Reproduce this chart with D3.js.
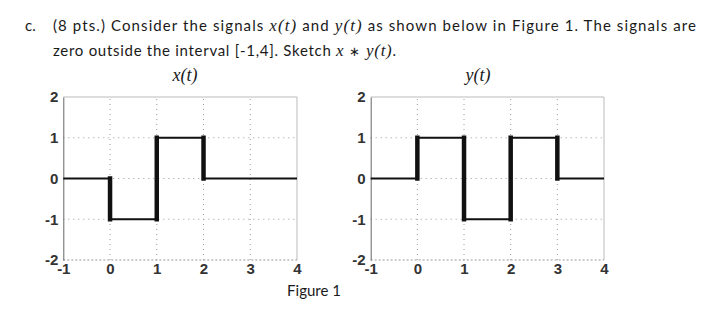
<!DOCTYPE html>
<html>
<head>
<meta charset="utf-8">
<script src="https://cdn.jsdelivr.net/npm/d3@7"></script>
<style>
  body { margin: 0; background: #fff; }
  .body-text { font-family: Lato, 'Open Sans', sans-serif; font-size: 15px; fill: #1a1a1a; }
  .math { font-family: 'Liberation Serif', serif; font-style: italic; font-size: 17px; }
  .tick text { font-family: 'Liberation Sans', Arial, sans-serif; font-size: 15px; font-weight: bold; fill: #333; }
</style>
</head>
<body>
<div class="chart"></div>
<script>
// signal breakpoints and piecewise-constant values
const tEdges = [-1, 0, 1, 2, 3, 4]
const xValues = [0, -1, 1, 0, 0]
const yValues = [0, 1, -1, 1, 0]
const tTicks = [-1, 0, 1, 2, 3, 4]
const vTicks = [-2, -1, 0, 1, 2]
const plotTitles = ['x(t)', 'y(t)']

const width = 716, height = 324

const svg = d3.select('.chart')
    .append('svg')
    .attr('width', width)
    .attr('height', height)

// heading text
function mathText(sel, parts) {
    parts.forEach(p => {
        let t = sel.append('tspan')
            .attr('class', p.m ? 'math' : null)
            .text(p.s)
        if (p.size) t.style('font-size', p.size).style('font-style', 'normal')
    })
}

svg.append('text').attr('class', 'body-text').attr('x', 25).attr('y', 31).text('c.')

let line1 = svg.append('text').attr('class', 'body-text')
    .attr('x', 53).attr('y', 31)
    .attr('textLength', 643).attr('lengthAdjust', 'spacing')
mathText(line1, [
    { s: '(8 pts.) Consider the signals ' },
    { s: 'x(t)', m: true },
    { s: ' and ' },
    { s: 'y(t)', m: true },
    { s: ' as shown below in Figure 1. The signals are' }
])

let line2 = svg.append('text').attr('class', 'body-text')
    .attr('x', 53).attr('y', 56)
    .attr('textLength', 343).attr('lengthAdjust', 'spacing')
mathText(line2, [
    { s: 'zero outside the interval [-1,4]. Sketch ' },
    { s: 'x ', m: true },
    { s: '\u2217', m: true, size: '13px' },
    { s: ' y(t)', m: true },
    { s: '.' }
])

svg.append('text').attr('class', 'body-text')
    .attr('x', 314).attr('y', 296)
    .attr('text-anchor', 'middle')
    .text('Figure 1')

const panels = [
    { values: xValues, x0: 63.3, x1: 297, titleX: 185, title: plotTitles[0] },
    { values: yValues, x0: 370.7, x1: 604, titleX: 478, title: plotTitles[1] }
]

panels.forEach(p => drawPanel(p))

function drawPanel(p) {
    const xScale = d3.scaleLinear().domain([-1, 4]).range([p.x0, p.x1])
    const yScale = d3.scaleLinear().domain([-2, 2]).range([260, 97])

    const g = svg.append('g')

    // title
    g.append('text')
        .attr('class', 'body-text math')
        .attr('x', p.titleX).attr('y', 81)
        .attr('text-anchor', 'middle')
        .style('font-size', '18px')
        .text(p.title)

    // dotted grid
    g.selectAll('.vgrid').data(tTicks.slice(1, -1)).enter().append('line')
        .attr('x1', d => xScale(d)).attr('x2', d => xScale(d))
        .attr('y1', yScale(-2)).attr('y2', yScale(2))
        .attr('stroke', '#999').attr('stroke-width', 1)
        .attr('stroke-dasharray', '1,4')
    g.selectAll('.hgrid').data(vTicks.slice(1, -1)).enter().append('line')
        .attr('x1', xScale(-1)).attr('x2', xScale(4))
        .attr('y1', d => yScale(d)).attr('y2', d => yScale(d))
        .attr('stroke', '#999').attr('stroke-width', 1)
        .attr('stroke-dasharray', '1,4')

    // box
    g.append('line').attr('x1', xScale(-1)).attr('x2', xScale(4))
        .attr('y1', yScale(2)).attr('y2', yScale(2)).attr('stroke', '#bbb')
    g.append('line').attr('x1', xScale(4)).attr('x2', xScale(4))
        .attr('y1', yScale(2)).attr('y2', yScale(-2)).attr('stroke', '#bbb')
    g.append('line').attr('x1', xScale(-1)).attr('x2', xScale(4))
        .attr('y1', yScale(-2)).attr('y2', yScale(-2))
        .attr('stroke', '#999').attr('stroke-dasharray', '2,2')

    // axes
    const yAxis = d3.axisLeft(yScale).tickValues(vTicks).tickSize(0).tickPadding(5)
        .tickFormat(d => String(d))
    const gy = g.append('g').attr('transform', `translate(${xScale(-1)},0)`).call(yAxis)
    gy.select('.domain').attr('stroke', '#666')

    const xAxis = d3.axisBottom(xScale).tickValues(tTicks).tickSize(0).tickPadding(3)
        .tickFormat(d => String(d))
    const gx = g.append('g').attr('transform', `translate(0,${yScale(-2)})`).call(xAxis)
    gx.select('.domain').remove()

    // step signal
    const pts = p.values.map((v, i) => [tEdges[i], v])
    pts.push([tEdges[tEdges.length - 1], p.values[p.values.length - 1]])
    const line = d3.line()
        .x(d => xScale(d[0]))
        .y(d => yScale(d[1]))
        .curve(d3.curveStepAfter)
    g.append('path')
        .datum(pts)
        .attr('d', line)
        .attr('fill', 'none')
        .attr('stroke', '#111')
        .attr('stroke-width', 2.2)

    // heavier vertical jumps
    const jumps = []
    for (let i = 1; i < p.values.length; i++) {
        if (p.values[i] !== p.values[i - 1]) jumps.push({ t: tEdges[i], a: p.values[i - 1], b: p.values[i] })
    }
    g.selectAll('.jump').data(jumps).enter().append('line')
        .attr('x1', d => xScale(d.t)).attr('x2', d => xScale(d.t))
        .attr('y1', d => yScale(d.a)).attr('y2', d => yScale(d.b))
        .attr('stroke', '#111')
        .attr('stroke-width', 4.5)
        .attr('stroke-linecap', 'square')
}
</script>
</body>
</html>
